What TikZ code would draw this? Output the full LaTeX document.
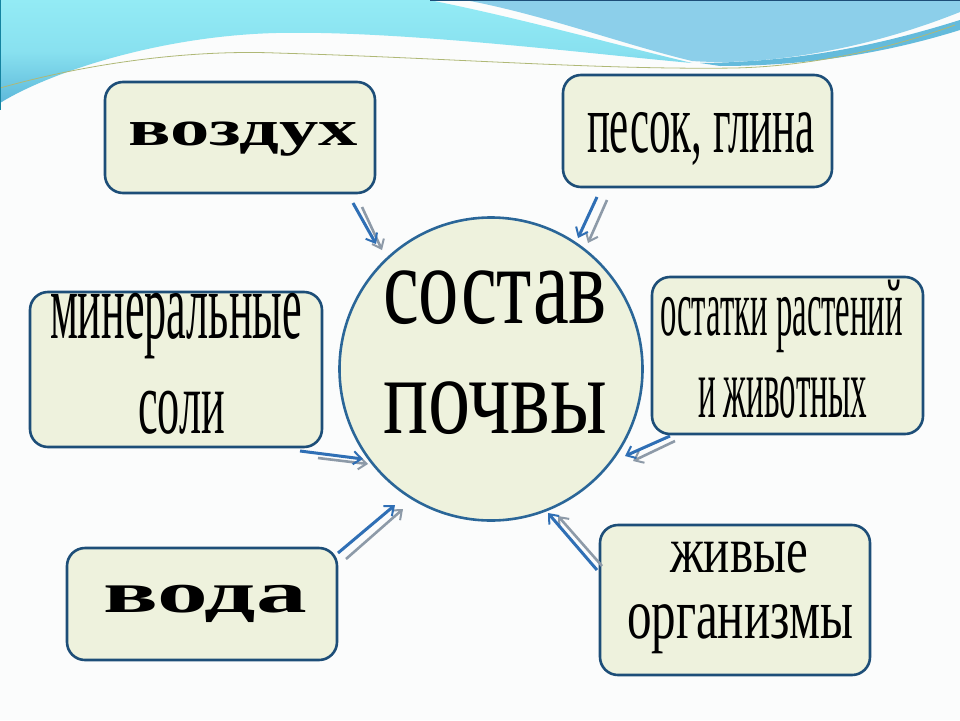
\documentclass[tikz,border=0pt]{standalone}
\usepackage{fontspec}
\usepackage{graphicx}
\setmainfont{Liberation Serif}
\usetikzlibrary{arrows.meta}
\definecolor{boxfill}{HTML}{EEF2DD}
\definecolor{boxline}{HTML}{1D4E78}
\definecolor{circline}{HTML}{2A6698}
\definecolor{arrblue}{HTML}{2F6FB5}
\definecolor{arrgray}{HTML}{8D9AA8}
\definecolor{bannercyan}{HTML}{93EBF5}
\definecolor{bannerdeep}{HTML}{5DB8DA}
\definecolor{bannerblue}{HTML}{8CCFEA}
\definecolor{bgcol}{HTML}{FBFCFC}
\newcommand\fw[3]{{\fontsize{#2}{#2}\selectfont\resizebox{#1}{\height}{#3}}}
\tikzset{
  partbox/.style={draw=boxline, line width=2.6pt, fill=boxfill, rounded corners=18pt, inner sep=0pt},
  hubcircle/.style={draw=circline, line width=2.6pt, fill=boxfill, circle, inner sep=0pt, minimum size=303pt},
  lbl/.style={anchor=base, inner sep=0pt, text=black},
  bluearr/.style={draw=arrblue, line width=3pt, -{Straight Barb[length=8pt,width=13pt,line width=2pt]}},
  grayarr/.style={draw=arrgray, line width=2.6pt, -{Straight Barb[length=8pt,width=13pt,line width=2pt]}}
}
\begin{document}
\begin{tikzpicture}[x=1pt,y=-1pt]
\useasboundingbox (0,0) rectangle (960,720);
\fill[bgcol] (0,0) rectangle (960,720);
% banner
\shade[top color=bannercyan, bottom color=bannerdeep, middle color=bannercyan!80!bannerdeep]
  (0,0) -- (429,0) .. controls (520,18) and (620,46) .. (692,63)
  .. controls (600,55) and (400,30) .. (276,33)
  .. controls (160,36) and (50,72) .. (0,103) -- cycle;
\fill[bannerblue] (465,0) .. controls (545,15) and (625,45) .. (692,61)
  .. controls (760,66) and (860,52) .. (960,12) -- (960,0) -- cycle;
\fill[bannerdeep!85!bannerblue] (700,63) .. controls (800,62) and (880,45) .. (960,20)
  -- (960,30) .. controls (880,55) and (800,66) .. (720,66) -- cycle;
\draw[arrgray!70!yellow, line width=0.8pt] (0,88) .. controls (100,60) and (200,50) .. (276,53)
  .. controls (450,58) and (600,70) .. (735,68) .. controls (820,66) and (900,45) .. (955,25);
\draw[boxline!70!cyan, line width=1.2pt] (0.6,0) -- (0.6,110);
\draw[boxline, line width=1.2pt] (430,0.6) -- (960,0.6);
% hub
\node[hubcircle] (hub) at (491,369) {};
\node[lbl] (t-sostav) at (495,323) {\fw{224pt}{112pt}{состав}};
\node[lbl] (t-pochvy) at (495,433) {\fw{224pt}{110pt}{почвы}};
% boxes
\node[partbox, minimum width=270pt, minimum height=111pt] (vozd) at (240,137.5) {};
\node[lbl] (t-vozd) at (243,145) {\fw{230pt}{50pt}{\bfseries воздух}};
\node[partbox, minimum width=269pt, minimum height=112pt] (pesok) at (697.5,131) {};
\node[lbl] (t-pesok) at (701,152) {\fw{228pt}{85pt}{песок, глина}};
\node[partbox, minimum width=292pt, minimum height=155pt] (miner) at (176,369.5) {};
\node[lbl] (t-miner1) at (176,338) {\fw{252pt}{96pt}{минеральные}};
\node[lbl] (t-miner2) at (181.5,433) {\fw{87pt}{90pt}{соли}};
\node[partbox, minimum width=271pt, minimum height=157pt] (ostat) at (787.5,355.5) {};
\node[lbl] (t-ostat1) at (781.5,335) {\fw{243pt}{81pt}{остатки растений}};
\node[lbl] (t-ostat2) at (782.5,417) {\fw{169pt}{86pt}{и животных}};
\node[partbox, minimum width=270pt, minimum height=112pt] (voda) at (202,604) {};
\node[lbl] (t-voda) at (205,612) {\fw{204pt}{58pt}{\bfseries вода}};
\node[partbox, minimum width=270pt, minimum height=150pt] (zhiv) at (735,600) {};
\node[lbl] (t-zhiv1) at (739,572) {\fw{138pt}{66pt}{живые}};
\node[lbl] (t-zhiv2) at (740,638) {\fw{226pt}{72pt}{организмы}};
% arrow end points
\coordinate (a1b) at (353,203); \coordinate (a1be) at (376,244);
\coordinate (a1g) at (362,207); \coordinate (a1ge) at (382,250);
\coordinate (a2b) at (597,197); \coordinate (a2be) at (578,238);
\coordinate (a2g) at (607,200); \coordinate (a2ge) at (588,243);
\coordinate (a3b) at (300,451); \coordinate (a3be) at (363,459);
\coordinate (a3g) at (318,458); \coordinate (a3ge) at (368,464);
\coordinate (a4b) at (338,553); \coordinate (a4be) at (395,505);
\coordinate (a4g) at (346,559); \coordinate (a4ge) at (403,509);
\coordinate (a5b) at (670,436); \coordinate (a5be) at (625,456);
\coordinate (a5g) at (675,441); \coordinate (a5ge) at (633,461);
\coordinate (a6b) at (597,570); \coordinate (a6be) at (548,513);
\coordinate (a6g) at (602,566); \coordinate (a6ge) at (558,516);
\foreach \i in {1,...,6}{
  \draw[grayarr] (a\i g) -- (a\i ge);
  \draw[bluearr] (a\i b) -- (a\i be);
}
\end{tikzpicture}
\end{document}
